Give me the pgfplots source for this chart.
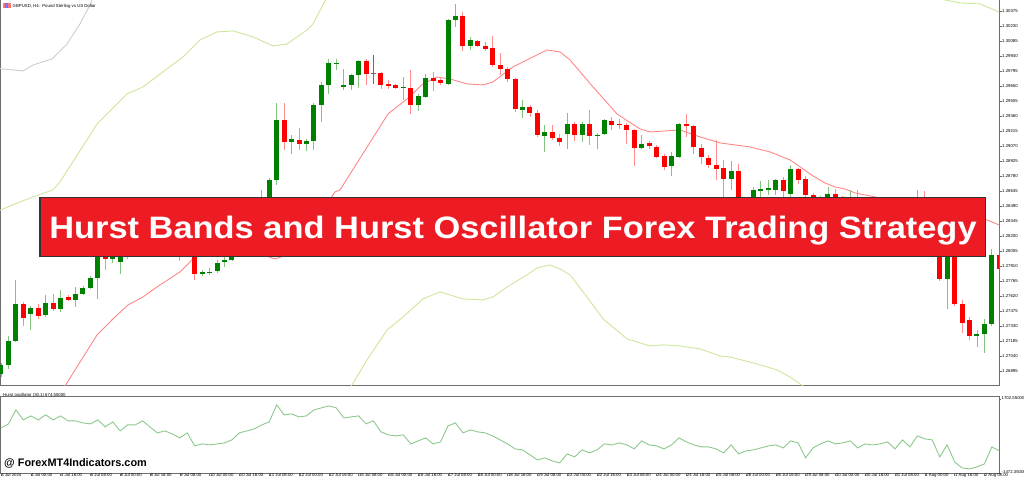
\documentclass[border=0pt]{standalone}
\usepackage{fontspec}
\setmainfont{Liberation Sans}
\usepackage{graphicx}
\usepackage{pgfplots}
\usepackage{pgfplotstable}
\pgfplotsset{compat=1.18}

\definecolor{bull}{RGB}{0,128,0}
\definecolor{bullwick}{RGB}{130,195,130}
\definecolor{bear}{RGB}{255,0,0}
\definecolor{bearwick}{RGB}{255,140,140}
\definecolor{dojic}{RGB}{110,110,110}
\definecolor{midline}{RGB}{255,135,135}
\definecolor{bandyg}{RGB}{205,230,155}
\definecolor{bandgray}{RGB}{205,205,205}
\definecolor{oscline}{RGB}{140,200,140}
\definecolor{bannerred}{RGB}{237,28,36}
\definecolor{frame}{RGB}{110,110,110}

\pgfplotstableread{
i o h l c
0 1.26868 1.26975 1.26839 1.26955
1 1.26955 1.27235 1.26917 1.27187
2 1.27187 1.27776 1.27182 1.27544
4 1.27448 1.27525 1.27293 1.27506
6 1.27438 1.27631 1.27419 1.27554
8 1.27496 1.27680 1.27467 1.27602
10 1.27583 1.27709 1.27515 1.27641
11 1.27641 1.27718 1.27631 1.27699
12 1.27699 1.27815 1.27689 1.27796
13 1.27796 1.28143 1.27593 1.28076
15 1.27979 1.28095 1.27941 1.28047
16 1.27950 1.28134 1.27834 1.28095
17 1.28095 1.28240 1.27979 1.28192
19 1.28134 1.28269 1.28095 1.28211
22 1.28095 1.28211 1.28057 1.28163
25 1.28066 1.28192 1.28028 1.28134
27 1.27839 1.27873 1.27815 1.27854
28 1.27844 1.27892 1.27825 1.27859
29 1.27863 1.27970 1.27844 1.27941
30 1.27950 1.27999 1.27902 1.27970
31 1.27970 1.28095 1.27960 1.28057
32 1.28057 1.28192 1.28037 1.28143
33 1.28143 1.28259 1.28114 1.28211
35 1.28172 1.28646 1.28153 1.28530
36 1.28530 1.28762 1.28501 1.28742
37 1.28742 1.29486 1.28694 1.29322
39 1.29109 1.29177 1.28994 1.29138
41 1.29090 1.29138 1.29023 1.29119
42 1.29119 1.29486 1.29032 1.29467
43 1.29467 1.29689 1.29303 1.29660
44 1.29660 1.29911 1.29573 1.29872
45 1.29868 1.29911 1.29805 1.29872
46 1.29641 1.29815 1.29612 1.29660
47 1.29660 1.29766 1.29612 1.29757
48 1.29757 1.29902 1.29631 1.29892
54 1.29631 1.29737 1.29515 1.29641
56 1.29467 1.29573 1.29409 1.29554
57 1.29544 1.29766 1.29534 1.29728
60 1.29670 1.30298 1.29660 1.30288
61 1.30288 1.30443 1.30220 1.30327
63 1.30037 1.30124 1.29998 1.30095
70 1.29418 1.29515 1.29341 1.29447
73 1.29167 1.29274 1.29013 1.29206
76 1.29187 1.29390 1.29042 1.29283
78 1.29177 1.29303 1.29109 1.29283
80 1.29172 1.29196 1.29042 1.29177
81 1.29187 1.29332 1.29182 1.29322
86 1.29051 1.29177 1.29042 1.29090
90 1.28878 1.29013 1.28781 1.28974
91 1.28965 1.29293 1.28955 1.29283
98 1.28752 1.28926 1.28646 1.28829
100 1.28433 1.28578 1.28385 1.28530
101 1.28530 1.28675 1.28501 1.28646
102 1.28636 1.28733 1.28578 1.28655
103 1.28646 1.28742 1.28597 1.28665
104 1.28646 1.28752 1.28597 1.28742
106 1.28607 1.28887 1.28578 1.28849
110 1.28530 1.28588 1.28462 1.28578
111 1.28530 1.28675 1.28482 1.28607
114 1.28482 1.28646 1.28443 1.28549
117 1.28433 1.28539 1.28385 1.28501
119 1.28462 1.28549 1.28433 1.28520
121 1.28443 1.28549 1.28414 1.28520
123 1.28482 1.28646 1.28462 1.28549
127 1.27786 1.28143 1.27496 1.28095
131 1.27235 1.27293 1.27129 1.27255
132 1.27255 1.27400 1.27071 1.27351
133 1.27351 1.28076 1.27332 1.28018
}\bulltab

\pgfplotstableread{
i o h l c
3 1.27544 1.27564 1.27332 1.27409
5 1.27506 1.27544 1.27400 1.27429
7 1.27554 1.27641 1.27477 1.27496
9 1.27612 1.27631 1.27573 1.27583
14 1.28076 1.28114 1.27873 1.27979
18 1.28192 1.28230 1.27999 1.28134
20 1.28211 1.28259 1.28076 1.28143
21 1.28143 1.28192 1.28047 1.28095
23 1.28163 1.28211 1.27999 1.28095
24 1.28095 1.28153 1.27960 1.28066
26 1.28134 1.28192 1.27776 1.27834
34 1.28211 1.28269 1.28134 1.28172
38 1.29322 1.29486 1.29032 1.29109
40 1.29129 1.29245 1.29032 1.29090
49 1.29892 1.29911 1.29660 1.29766
51 1.29776 1.29786 1.29621 1.29660
52 1.29670 1.29708 1.29621 1.29650
53 1.29660 1.29670 1.29621 1.29631
55 1.29631 1.29805 1.29380 1.29467
58 1.29728 1.29786 1.29602 1.29699
59 1.29708 1.29737 1.29660 1.29679
62 1.30327 1.30365 1.29989 1.30037
64 1.30085 1.30095 1.30027 1.30037
65 1.30037 1.30075 1.29989 1.30008
66 1.30017 1.30134 1.29834 1.29853
67 1.29853 1.29969 1.29757 1.29815
68 1.29815 1.29834 1.29689 1.29718
69 1.29718 1.29728 1.29399 1.29428
71 1.29447 1.29467 1.29351 1.29390
72 1.29390 1.29418 1.29158 1.29177
74 1.29206 1.29274 1.29129 1.29148
75 1.29148 1.29187 1.29071 1.29109
77 1.29283 1.29303 1.29119 1.29177
79 1.29283 1.29418 1.29080 1.29167
82 1.29312 1.29351 1.29225 1.29274
83 1.29283 1.29332 1.29235 1.29278
84 1.29274 1.29293 1.29090 1.29225
85 1.29225 1.29235 1.28878 1.29051
87 1.29100 1.29119 1.29042 1.29071
88 1.29061 1.29080 1.28955 1.28965
89 1.28974 1.28994 1.28839 1.28868
92 1.29283 1.29380 1.29158 1.29264
93 1.29264 1.29274 1.28994 1.29061
94 1.29051 1.29090 1.28897 1.28965
95 1.28955 1.28984 1.28858 1.28887
96 1.28887 1.29129 1.28742 1.28849
97 1.28858 1.28936 1.28530 1.28752
99 1.28829 1.28897 1.28337 1.28433
105 1.28742 1.28771 1.28578 1.28636
107 1.28849 1.28858 1.28704 1.28742
108 1.28752 1.28781 1.28530 1.28597
109 1.28597 1.28617 1.28482 1.28530
112 1.28607 1.28655 1.28482 1.28530
113 1.28530 1.28588 1.28433 1.28482
115 1.28549 1.28646 1.28433 1.28482
116 1.28482 1.28530 1.28385 1.28433
118 1.28501 1.28530 1.28404 1.28462
120 1.28520 1.28539 1.28395 1.28443
122 1.28520 1.28559 1.28443 1.28482
124 1.28549 1.28636 1.28423 1.28462
125 1.28462 1.28578 1.28337 1.28385
126 1.28385 1.28433 1.27767 1.27786
128 1.28095 1.28114 1.27525 1.27544
129 1.27544 1.27583 1.27264 1.27361
130 1.27390 1.27419 1.27197 1.27235
134 1.28018 1.28404 1.27834 1.27883
}\beartab

\pgfplotstableread{
i o h l c
50 1.29776 1.29950 1.29670 1.29776
}\dojitab

\pgfplotstableread{
i v
0 458
1 630
2 1231
3 802
4 973
5 802
6 1016
7 802
8 973
9 759
10 759
11 673
12 630
13 802
14 501
15 716
16 330
17 587
18 587
19 759
20 501
21 244
22 330
23 201
24 29
25 244
26 -314
27 -228
28 -271
29 -228
30 -185
31 -56
32 244
33 330
34 416
35 587
36 716
37 1445
38 1016
39 1059
40 930
41 973
42 1231
43 1316
44 1402
45 1316
46 887
47 930
48 973
49 630
50 759
51 287
52 158
53 115
54 158
55 -228
56 -99
57 29
58 -228
59 -142
60 544
61 673
62 244
63 373
64 287
65 244
66 115
67 -56
68 -228
69 -443
70 -485
71 -700
72 -914
73 -829
74 -957
75 -1043
76 -657
77 -786
78 -485
79 -614
80 -485
81 -228
82 -271
83 -185
84 -271
85 -443
86 -99
87 -271
88 -314
89 -443
90 -271
91 29
92 -142
93 -271
94 -357
95 -357
96 -443
97 -614
98 -271
99 -657
100 -528
101 -485
102 -400
103 -314
104 -271
105 -400
106 -99
107 -185
108 -829
109 -400
110 -228
111 -99
112 -228
113 -185
114 -99
115 -400
116 -228
117 -271
118 -228
119 -142
120 -443
121 -56
122 -357
123 115
124 -14
125 -56
126 -786
127 -271
128 -1000
129 -1258
130 -1301
131 -1215
132 -1086
133 -357
134 -528
}\osctab

\newcommand{\tinyfont}{\fontsize{4.3}{5}\selectfont}

\pgfplotsset{
  wick/.style={draw=none, mark=none, forget plot, error bars/.cd, y dir=both, y explicit, error mark=none, error bar style={draw=#1, line width=0.9pt}},
  body/.style={draw=none, mark=none, forget plot, error bars/.cd, y dir=both, y explicit, error mark=none, error bar style={draw=#1, line width=5pt}},
}

\begin{document}
\begin{tikzpicture}[x=1pt,y=1pt]
\useasboundingbox (0,0) rectangle (1024,476);

% ---------------- main price panel ----------------
\begin{axis}[
  at={(0,87)}, anchor=south west, scale only axis,
  width=999pt, height=388pt,
  xmin=-0.134, xmax=133.96, ymin=1.267525, ymax=1.305006,
  axis line style={draw=frame, line width=1pt},
  xtick=\empty,
  ytick={1.26895,1.27040,1.27185,1.27330,1.27475,1.27620,1.27765,1.27910,1.28055,1.28200,1.28345,1.28490,1.28635,1.28780,1.28925,1.29070,1.29215,1.29360,1.29505,1.29650,1.29795,1.29940,1.30085,1.30230,1.30375},
  yticklabels={1.26895,1.27040,1.27185,1.27330,1.27475,1.27620,1.27765,1.27910,1.28055,1.28200,1.28345,1.28490,1.28635,1.28780,1.28925,1.29070,1.29215,1.29360,1.29505,1.29650,1.29795,1.29940,1.30085,1.30230,1.30375},
  ytick pos=right, yticklabel pos=right,
  tick align=outside, major tick length=2.5pt,
  tick style={draw=frame, line width=0.5pt},
  yticklabel style={font=\tinyfont, anchor=west, inner sep=0pt, xshift=0.5pt},
]
% bands
\addplot[bandgray, line width=0.9pt] coordinates {(-0.5,1.29820) (2.95,1.29795) (4.30,1.29853) (6.85,1.29911) (8.86,1.30056) (10.60,1.30249) (11.95,1.30433) (12.35,1.30510) (13.29,1.30655)};
\addplot[bandyg, line width=0.9pt] coordinates {(-0.5,1.28440) (2.55,1.28530) (4.30,1.28578) (6.98,1.28646) (7.92,1.28723) (12.89,1.29283) (16.91,1.29573) (19.06,1.29641) (24.43,1.29931) (26.71,1.30095) (28.99,1.30172) (31.14,1.30182) (33.83,1.30124) (36.51,1.30037) (38.39,1.30056) (41.07,1.30191) (41.88,1.30249) (43.76,1.30510) (46.17,1.30800) (60.27,1.3178) (80.40,1.3165) (113.96,1.3070) (121.34,1.30587) (123.76,1.30510) (126.04,1.30491) (128.72,1.30452) (131.41,1.30443) (133.96,1.30365) (135.4,1.30298)};
\addplot[bandyg, line width=0.9pt] coordinates {(45.50,1.26598) (47.11,1.26762) (49.13,1.27004) (51.81,1.27293) (53.96,1.27419) (56.64,1.27593) (58.93,1.27661) (59.87,1.27641) (62.01,1.27593) (64.70,1.27583) (66.04,1.27612) (67.92,1.27709) (70.60,1.27825) (71.95,1.27892) (73.69,1.27921) (75.03,1.27883) (76.38,1.27825) (78.66,1.27612) (80.81,1.27400) (84.03,1.27207) (87.11,1.27139) (88.86,1.27149) (91.14,1.27139) (93.83,1.27110) (96.51,1.27042) (97.85,1.27032) (101.48,1.26965) (104.16,1.26907) (105.91,1.26839) (107.65,1.26752) (109.93,1.26598)};
\addplot[midline, line width=0.9pt] coordinates {(6.58,1.26550) (8.59,1.26752) (12.89,1.27245) (15.03,1.27400) (17.05,1.27535) (19.06,1.27612) (20.94,1.27709) (24.03,1.27854) (25.37,1.27950) (26.31,1.28028) (29.40,1.28095) (32.75,1.28076) (34.77,1.28028) (36.78,1.27979) (38.79,1.28028) (41.48,1.28269) (44.83,1.28627) (45.50,1.28646) (51.95,1.29380) (54.50,1.29525) (56.64,1.29670) (58.52,1.29737) (60.27,1.29718) (62.55,1.29670) (64.70,1.29660) (66.04,1.29689) (68.72,1.29834) (71.41,1.29931) (73.29,1.29998) (75.03,1.29979) (76.38,1.29902) (79.46,1.29641) (82.68,1.29380) (85.77,1.29235) (87.11,1.29206) (91.14,1.29225) (93.83,1.29158) (96.51,1.29100) (100.54,1.29061) (103.22,1.29013) (105.91,1.28936) (107.25,1.28868) (108.99,1.28781) (110.60,1.28713) (111.95,1.28675) (113.29,1.28655) (114.63,1.28617) (120.67,1.28530) (126.04,1.28462) (132.35,1.28356) (133.96,1.28308) (135.4,1.28269)};

% wicks
\addplot[wick=bullwick] table[x=i, y expr={(\thisrow{h}+\thisrow{l})/2}, y error expr={(\thisrow{h}-\thisrow{l})/2}] {\bulltab};
\addplot[wick=bearwick] table[x=i, y expr={(\thisrow{h}+\thisrow{l})/2}, y error expr={(\thisrow{h}-\thisrow{l})/2}] {\beartab};
\addplot[wick=dojic] table[x=i, y expr={(\thisrow{h}+\thisrow{l})/2}, y error expr={(\thisrow{h}-\thisrow{l})/2}] {\dojitab};
% bodies
\addplot[body=bull] table[x=i, y expr={(\thisrow{o}+\thisrow{c})/2}, y error expr={max(abs(\thisrow{o}-\thisrow{c})/2,0.00004)}] {\bulltab};
\addplot[body=bear] table[x=i, y expr={(\thisrow{o}+\thisrow{c})/2}, y error expr={max(abs(\thisrow{o}-\thisrow{c})/2,0.00004)}] {\beartab};
\addplot[body=dojic] table[x=i, y expr={(\thisrow{o}+\thisrow{c})/2}, y error expr={max(abs(\thisrow{o}-\thisrow{c})/2,0.00004)}] {\dojitab};
\end{axis}

% ---------------- oscillator panel ----------------
\begin{axis}[
  at={(0,9)}, anchor=south west, scale only axis,
  width=999pt, height=77pt,
  xmin=-0.134, xmax=133.96, ymin=-1515.3, ymax=1788.4,
  axis line style={draw=frame, line width=1pt},
  xtick={0,4,...,132},
  xticklabels={3 Jul 2024,4 Jul 00:00,4 Jul 16:00,5 Jul 08:00,8 Jul 00:00,8 Jul 16:00,9 Jul 08:00,10 Jul 00:00,10 Jul 16:00,11 Jul 08:00,12 Jul 00:00,12 Jul 16:00,15 Jul 08:00,16 Jul 00:00,16 Jul 16:00,17 Jul 08:00,18 Jul 00:00,18 Jul 16:00,19 Jul 08:00,22 Jul 00:00,22 Jul 16:00,23 Jul 08:00,24 Jul 00:00,24 Jul 16:00,25 Jul 08:00,26 Jul 00:00,26 Jul 16:00,29 Jul 08:00,30 Jul 00:00,30 Jul 16:00,31 Jul 08:00,1 Aug 00:00,1 Aug 16:00,2 Aug 08:00},
  xtick pos=bottom, xticklabel pos=bottom,
  ytick={-1472.35,1702.55}, yticklabels={-1472.35000,1702.55000},
  ytick pos=right, yticklabel pos=right,
  tick align=outside, major tick length=2pt,
  tick style={draw=frame, line width=0.5pt},
  xticklabel style={font=\tinyfont, anchor=north west, inner sep=0pt, yshift=2.5pt, xshift=0.3pt},
  yticklabel style={font=\tinyfont, anchor=west, inner sep=0pt, xshift=0.5pt, yshift=1.2pt},
]
\addplot[oscline, line width=0.9pt] table[x=i, y=v] {\osctab};
\end{axis}

% ---------------- texts ----------------
\node[anchor=west, inner sep=0pt] at (2.5,470) {\textcolor{red!55}{\rule{2.6pt}{5pt}}\textcolor{blue!55}{\rule{2.6pt}{5pt}}\textcolor{red!55}{\rule{2.6pt}{5pt}}};
\node[anchor=west, font=\tinyfont, inner sep=0pt] at (12.5,470) {GBPUSD, H4:\ \ Pound Sterling vs US Dollar};
\node[anchor=west, font=\tinyfont, inner sep=0pt] at (3,81) {Hurst oscillator (30,1) 674.55000};
\node[anchor=base west, font=\fontsize{10.9}{12}\selectfont\bfseries, inner sep=0pt] at (4,9.5) {@ ForexMT4Indicators.com};

% ---------------- banner ----------------
\node[fill=bannerred, draw=black!80, line width=1.3pt, minimum width=945.7pt, minimum height=59pt, inner sep=0pt] at (512.85,248.8) {};
\node[anchor=base, text=white, font=\fontsize{31}{31}\selectfont\bfseries, inner sep=0pt] at (513,237) {\scalebox{1.11}[1]{Hurst Bands and Hurst Oscillator Forex Trading Strategy}};
\end{tikzpicture}
\end{document}
